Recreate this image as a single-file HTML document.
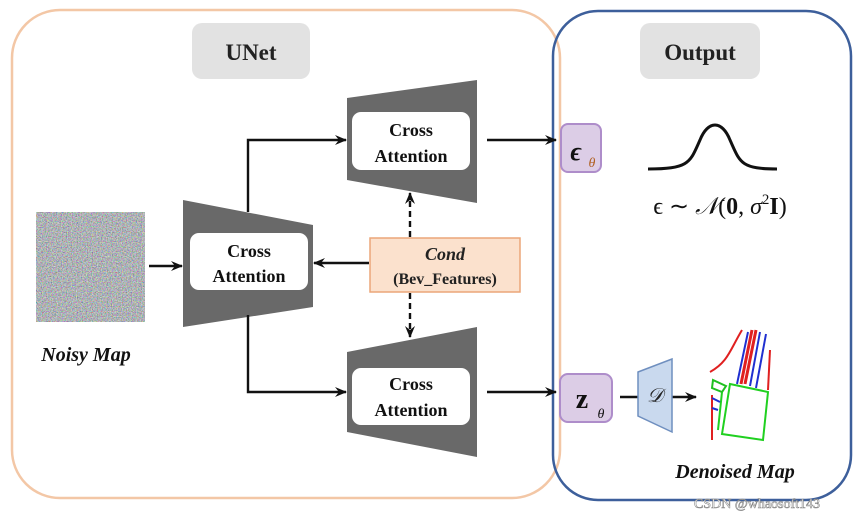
<!DOCTYPE html>
<html><head><meta charset="utf-8"><style>
html,body{margin:0;padding:0;background:#fff;}
svg{display:block;}
text{font-family:"Liberation Serif",serif;}
</style></head><body>
<svg width="864" height="519" viewBox="0 0 864 519" xmlns="http://www.w3.org/2000/svg">
<defs>
<marker id="ah" markerWidth="12" markerHeight="12" refX="11" refY="6" orient="auto" markerUnits="userSpaceOnUse">
<path d="M0,1 L12,6 L0,11 L4,6 Z" fill="#111"/></marker>
<filter id="noise" x="0" y="0" width="100%" height="100%">
<feTurbulence type="fractalNoise" baseFrequency="0.8" numOctaves="2" seed="3"/>
<feColorMatrix type="matrix" values="1.1 0 0 0 -0.12  0 1.1 0 0 -0.1  0 0 1.1 0 -0.08  0 0 0 0 1"/>
</filter>
</defs>
<rect x="12" y="10" width="548" height="488" rx="48" fill="none" stroke="#f3c7a6" stroke-width="2.5"/>
<rect x="553" y="11" width="298" height="489" rx="45" fill="none" stroke="#3d5f9b" stroke-width="2.5"/>
<rect x="192" y="23" width="118" height="56" rx="10" fill="#e2e2e2"/>
<text x="251" y="60" font-size="23" font-weight="bold" text-anchor="middle" fill="#222">UNet</text>
<rect x="640" y="23" width="120" height="56" rx="10" fill="#e2e2e2"/>
<text x="700" y="60" font-size="23" font-weight="bold" text-anchor="middle" fill="#222">Output</text>
<rect x="36" y="212" width="109" height="110" filter="url(#noise)"/>
<text x="86" y="361" font-size="20" font-weight="bold" font-style="italic" text-anchor="middle" fill="#111">Noisy Map</text>
<polygon points="183,200 313,225 313,307 183,327" fill="#696969"/>
<rect x="190" y="233" width="118" height="57" rx="9" fill="#fff"/>
<text x="249" y="257" font-size="18" font-weight="bold" text-anchor="middle" fill="#111">Cross</text>
<text x="249" y="282" font-size="18" font-weight="bold" text-anchor="middle" fill="#111">Attention</text>
<polygon points="347,98 477,80 477,203 347,180" fill="#696969"/>
<rect x="352" y="112" width="118" height="58" rx="9" fill="#fff"/>
<text x="411" y="136" font-size="18" font-weight="bold" text-anchor="middle" fill="#111">Cross</text>
<text x="411" y="162" font-size="18" font-weight="bold" text-anchor="middle" fill="#111">Attention</text>
<polygon points="347,352 477,327 477,457 347,432" fill="#696969"/>
<rect x="352" y="368" width="118" height="57" rx="9" fill="#fff"/>
<text x="411" y="390" font-size="18" font-weight="bold" text-anchor="middle" fill="#111">Cross</text>
<text x="411" y="416" font-size="18" font-weight="bold" text-anchor="middle" fill="#111">Attention</text>
<rect x="370" y="238" width="150" height="54" fill="#fbe1cd" stroke="#eba679" stroke-width="1.5"/>
<text x="445" y="260" font-size="18" font-style="italic" font-weight="bold" text-anchor="middle" fill="#222">Cond</text>
<text x="445" y="284" font-size="16" font-weight="bold" text-anchor="middle" fill="#222">(Bev_Features)</text>
<g stroke="#111" stroke-width="2.4" fill="none">
<line x1="149" y1="266" x2="182" y2="266" marker-end="url(#ah)"/>
<line x1="369" y1="263" x2="314" y2="263" marker-end="url(#ah)"/>
<polyline points="248,212 248,140 346,140" marker-end="url(#ah)"/>
<polyline points="248,315 248,392 346,392" marker-end="url(#ah)"/>
<line x1="487" y1="140" x2="556" y2="140" marker-end="url(#ah)"/>
<line x1="487" y1="392" x2="556" y2="392" marker-end="url(#ah)"/>
<line x1="410" y1="237" x2="410" y2="193" stroke-dasharray="6,4" marker-end="url(#ah)"/>
<line x1="410" y1="293" x2="410" y2="337" stroke-dasharray="6,4" marker-end="url(#ah)"/>
</g>
<rect x="561" y="124" width="40" height="48" rx="7" fill="#dccde6" stroke="#ae8dca" stroke-width="2"/>
<text x="576" y="160" font-size="26" font-weight="bold" font-style="italic" text-anchor="middle" fill="#111">ϵ</text>
<text x="592" y="167" font-size="14" font-style="italic" text-anchor="middle" fill="#b06020">θ</text>
<path d="M648,169 C690,169 690,162 700,140 C708,120 722,120 730,140 C740,162 740,169 777,169" fill="none" stroke="#111" stroke-width="3"/>
<text x="720" y="214" font-size="24" text-anchor="middle" fill="#111">ϵ ∼ <tspan font-style="italic">𝒩</tspan>(<tspan font-weight="bold">0</tspan>, <tspan font-style="italic">σ</tspan><tspan font-size="15" dy="-10">2</tspan><tspan font-weight="bold" dy="10">I</tspan>)</text>
<rect x="560" y="374" width="52" height="48" rx="8" fill="#dccde6" stroke="#ae8dca" stroke-width="2"/>
<text x="582" y="408" font-size="28" font-weight="bold" text-anchor="middle" fill="#111">z</text>
<text x="601" y="418" font-size="14" font-style="italic" text-anchor="middle" fill="#111">θ</text>
<g stroke="#111" stroke-width="2.4" fill="none">
<line x1="620" y1="397" x2="638" y2="397"/>
<line x1="672" y1="397" x2="696" y2="397" marker-end="url(#ah)"/>
</g>
<polygon points="638,372 672,359 672,432 638,416" fill="#c9d9ee" stroke="#6f8fbf" stroke-width="1.5"/>
<text x="655" y="402" font-size="20" font-style="italic" text-anchor="middle" fill="#222">𝒟</text>
<g fill="none" stroke-width="2">
<path d="M742,330 C730,350 728,362 710,372" stroke="#e02020"/>
<path d="M752,330 L741,384 M756,330 L745,384" stroke="#e02020" stroke-width="3"/>
<path d="M748,332 L737,384 M760,332 L750,386 M766,334 L756,388" stroke="#2030d0"/>
<path d="M770,350 L768,390" stroke="#e02020"/>
<path d="M713,380 L726,386 L722,392 L712,388Z" stroke="#20c020"/>
<path d="M730,384 L768,392 L763,440 L722,434 Z" stroke="#20d020"/>
<path d="M722,392 L718,430" stroke="#20d020"/>
<path d="M712,395 L712,440" stroke="#e02020"/>
<path d="M712,398 L720,402 M712,408 L718,410" stroke="#2030d0"/>
</g>
<text x="735" y="478" font-size="20" font-weight="bold" font-style="italic" text-anchor="middle" fill="#111">Denoised Map</text>
<text x="757" y="508" font-size="14" font-family="Liberation Sans" text-anchor="middle" fill="#fff" stroke="#888" stroke-width="0.6">CSDN @whaosoft143</text>
</svg>
</body></html>
